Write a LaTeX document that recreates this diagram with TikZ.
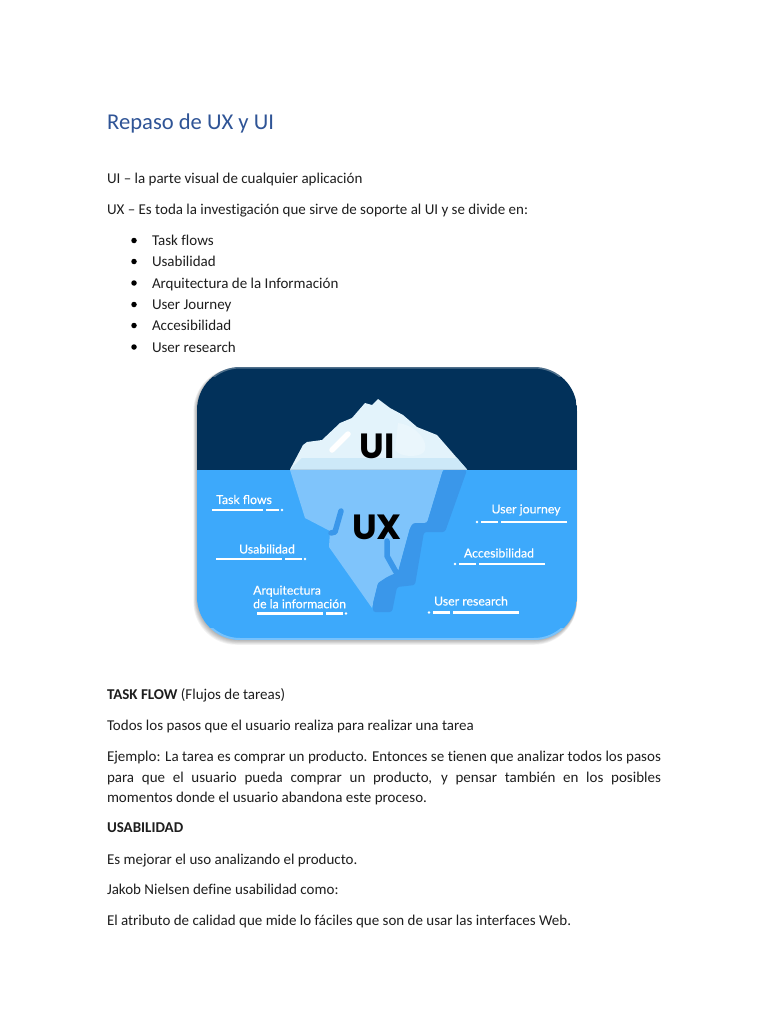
\documentclass[tikz,border=0pt]{standalone}
\usepackage{fontspec}
\setmainfont[Ligatures=NoCommon]{Carlito}
\newfontfamily\labelfont[FakeBold=0.3]{Lato}
\newfontfamily\bigfont{Poppins}
\definecolor{titleblue}{HTML}{2F5496}
\definecolor{bodyink}{HTML}{1E1E1E}
\definecolor{sky}{HTML}{02315A}
\definecolor{water}{HTML}{3DA9FB}
\definecolor{under}{HTML}{7FC4FB}
\definecolor{undershade}{HTML}{3A97EA}
\definecolor{ice}{HTML}{E3F3FB}
\definecolor{iceband}{HTML}{CDE9F8}
\tikzset{
  txt/.style={anchor=base west,inner sep=0pt,outer sep=0pt,text=bodyink,font=\fontsize{15}{18}\selectfont},
  ttl/.style={anchor=base west,inner sep=0pt,text=titleblue,font=\fontsize{22.6}{26}\selectfont},
  bul/.style={circle,fill=black,inner sep=0pt,minimum size=5.5pt},
  lab/.style={inner sep=0pt,text=white,font=\labelfont\fontsize{12.3}{13.6}\selectfont},
  big/.style={inner sep=0pt,text=black,font=\bigfont\bfseries\fontsize{35}{35}\selectfont},
  bar/.style={draw=white,line width=2.1pt,line cap=butt},
  slot/.style={draw=undershade,line width=5.5pt,line cap=round,line join=round},
}
\newcommand{\just}[1]{\makebox[554pt][s]{#1}}
\begin{document}
\begin{tikzpicture}[x=1pt,y=-1pt]
\useasboundingbox (0,0) rectangle (768,1024);
\fill[white] (0,0) rectangle (768,1024);
% text
\node[ttl] (title) at (107,130) {Repaso de UX y UI};
\node[txt] (t1) at (107,183.5) {UI – la parte visual de cualquier aplicación};
\node[txt] (t2) at (107,214.5) {UX – Es toda la investigación que sirve de soporte al UI y se divide en:};
\foreach \n/\y/\s in {a/245.5/Task flows,b/266.5/Usabilidad,c/288/Arquitectura de la Información,d/309.5/User Journey,e/330.5/Accesibilidad,f/352/User research}{
  \node[bul] (dot\n) at (134,\y-5) {};
  \node[txt] (item\n) at (152,\y) {\s};
}
\node[txt] (h1) at (107,699.5) {\textbf{TASK FLOW} (Flujos de tareas)};
\node[txt] (p1) at (107,730.5) {Todos los pasos que el usuario realiza para realizar una tarea};
\node[txt] (p2) at (107,761) {\just{Ejemplo: La tarea es comprar un producto. Entonces se tienen que analizar todos los pasos}};
\node[txt] (p3) at (107,782) {\just{para que el usuario pueda comprar un producto, y pensar también en los posibles}};
\node[txt] (p4) at (107,802.5) {momentos donde el usuario abandona este proceso.};
\node[txt] (h2) at (107,832.5) {\textbf{USABILIDAD}};
\node[txt] (p5) at (107,864) {Es mejorar el uso analizando el producto.};
\node[txt] (p6) at (107,894.5) {Jakob Nielsen define usabilidad como:};
\node[txt] (p7) at (107,925.5) {El atributo de calidad que mide lo fáciles que son de usar las interfaces Web.};
% shadow
\foreach \d in {6,5,4,3,2,1}{
  \fill[black,opacity=0.05,rounded corners=43pt] (197-\d*0.6,368) rectangle (577,640+\d*0.8);
}
% panel
\begin{scope}
\clip[rounded corners=43pt] (197,367) rectangle (577,640);
\fill[sky] (197,367) rectangle (577,470);
\fill[water] (197,470) rectangle (577,640);
% submerged body
\fill[under] (290,470) -- (305,518) -- (330,531) -- (329,547) -- (372,608) -- (378,583) -- (398,572) -- (410,528) -- (427,523) -- (443,470) -- cycle;
\fill[undershade,rounded corners=2.5pt] (443,470) -- (467,470) -- (445,532) -- (424,532) -- (415,585) -- (397,587) -- (392,612) -- (373,612) -- (373,603) -- (378,583) -- (387,577) -- (398,572) -- (410,528) -- (413,523) -- (427,523) -- cycle;
\draw[slot] (341,511) -- (335,532) -- (331,533);
\draw[slot] (387,541) -- (387,556) -- (396,572);
% tip
\fill[ice] (290,469.5) -- (303,445) -- (307,442) -- (322,440) -- (340,423) -- (352,418) -- (365,403) -- (372,405) -- (378,399) -- (390,408) -- (403,415) -- (417,427) -- (437,435) -- (467,469.5) -- cycle;
\fill[iceband] (290,469.5) -- (302,458) -- (457,458) -- (467,469.5) -- cycle;
\fill[white,opacity=0.25] (398,423) .. controls (415,425) and (428,440) .. (425,450) .. controls (423,458) and (400,458) .. (395,450) -- cycle;
\draw[white,line width=5.5pt,line cap=round] (332,450) -- (348,434);
% bevel: lit rim along top and bottom
\begin{scope}
\clip (190,360) rectangle (580,376);
\draw[white,opacity=0.3,line width=3pt,rounded corners=43pt] (197,367) rectangle (577,640);
\end{scope}
\begin{scope}
\clip (190,628) rectangle (580,645);
\draw[white,opacity=0.3,line width=4pt,rounded corners=43pt] (197,367) rectangle (577,640);
\end{scope}
\end{scope}
% big labels
\node[big] (ui) at (377,446) {UI};
\node[big] (ux) at (377,527) {UX};
% small labels
\node[lab] (lt) at (244,499.5) {Task flows};
\node[lab] (lu) at (267,549) {Usabilidad};
\node[lab,anchor=west,align=left] (la) at (253,597) {Arquitectura\\de la información};
\node[lab] (lj) at (526,510) {User journey};
\node[lab] (lc) at (499,553) {Accesibilidad};
\node[lab] (lr) at (471,601) {User research};
% bars
\foreach \y/\a/\b/\c/\d/\e in {510/212/263/266/279/282,559/216/282/285/302/305,613.5/257/323/326/343/346,522/567/501/498/481/477,564/545/479/476/459/455,612.5/519/453/450/433/429}{
  \draw[bar] (\a,\y) -- (\b,\y);
  \draw[bar] (\c,\y) -- (\d,\y);
  \fill[white] (\e,\y) circle (1.4pt);
}
\end{tikzpicture}
\end{document}
